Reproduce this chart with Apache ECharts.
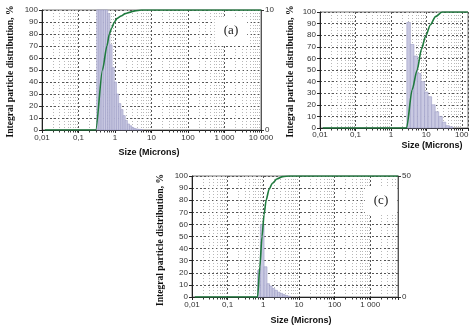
<!DOCTYPE html>
<html><head><meta charset="utf-8">
<script src="https://cdn.jsdelivr.net/npm/echarts@6/dist/echarts.min.js"></script>
<style>html,body{margin:0;padding:0;background:#fff}#c{width:474px;height:334px}</style>
</head><body><div id="c"></div>
<script>
// ---- tick labels ----
const xTickValues = [0.01, 0.1, 1, 10, 100, 1000, 10000];
const xTickLabels = ['0,01', '0,1', '1', '10', '100', '1 000', '10 000'];

// ---- panel (a): histogram (right axis, 0-10) and integral curve (left axis, %) ----
const edgesA = [0.316,0.363,0.417,0.479,0.550,0.631,0.724,0.832,0.955,1.096,1.259,1.445,1.660,1.905,2.188,2.512,2.884,3.311,3.802,4.365,5.012,5.754];
const barsA  = [12,12,12,12,12,9.7,7.1,5.2,4.0,3.0,2.2,1.7,1.2,0.8,0.5,0.35,0.2,0.12,0.08,0.05,0.03];
const curveSizeA = [0.012,0.297,0.454,0.60,0.70,0.81,0.96,1.15,1.47,1.9,2.5,3.5,5.3,10000];
const curveValA  = [0,0,50,70,80,85,90,93,95,97,98,99.3,100,100];

// ---- panel (b): histogram (left axis units) and integral curve ----
const edgesB = [2.818,3.548,4.467,5.623,7.079,8.913,11.22,14.13,17.78,22.39,28.18,35.48,44.67,56.23];
const barsB  = [91,72,62,47,40,31,27,20,14,10,5,2,1];
const curveSizeB = [0.012,2.77,3.98,5.5,7.3,9.5,13.1,18.1,27.9,150];
const curveValB  = [0,0,33,50,68,79,89,96,100,100];

// ---- panel (c): histogram (right axis, 0-50) and integral curve ----
const edgesC = [0.69,0.83,1.05,1.27,1.5,1.78,2.1,2.5,2.95,3.5,4.1,4.9,5.8];
const barsC  = [11,30,12.5,5.5,4.5,3.5,2.75,2,1.5,1,0.6,0.3];
const curveSizeC = [0.012,0.69,0.8,0.92,1.05,1.2,1.45,1.8,2.4,3.5,5.5,6000];
const curveValC  = [0,0,25,50,68,80,89,94,97.5,99.5,100,100];

const maxA = 10000, maxB = 150, maxC = 6000;

function fmtX(v){
  for (let i = 0; i < xTickValues.length; i++) {
    if (Math.abs(v / xTickValues[i] - 1) < 1e-6) return xTickLabels[i];
  }
  return '';
}
function binData(edges, vals){
  return vals.map((v, i) => [edges[i], edges[i + 1], v]);
}
function pairs(xs, ys){ return xs.map((x, i) => [x, ys[i]]); }
function minorPositions(max){
  const out = [];
  for (let k = -2; k <= 4; k++) {
    for (let m = 2; m <= 9; m++) {
      const v = m * Math.pow(10, k);
      if (v < max) out.push([v, 0]);
    }
  }
  return out;
}

const BAR_FILL = '#c9c9e2', BAR_STROKE = '#9d9dc6', GREEN = '#1f7a3e';

function barItem(params, api){
  const lo = api.value(0), hi = api.value(1), v = api.value(2);
  const p0 = api.coord([lo, v]);
  const p1 = api.coord([hi, 0]);
  const cs = params.coordSys;
  const shape = echarts.graphic.clipRectByRect(
    {x: p0[0], y: p0[1], width: p1[0] - p0[0], height: p1[1] - p0[1]},
    {x: cs.x, y: cs.y, width: cs.width, height: cs.height});
  if (!shape) return null;
  return {type: 'rect', shape: shape, style: {fill: BAR_FILL, stroke: BAR_STROKE, lineWidth: 0.6}};
}
function minorItem(params, api){
  const p = api.coord([api.value(0), 0]);
  const cs = params.coordSys;
  const x = Math.round(p[0]) + 0.5;
  return {type: 'group', children: [
    {type: 'line', shape: {x1: x, y1: cs.y, x2: x, y2: cs.y + cs.height},
     style: {stroke: '#b8b8b8', lineWidth: 1, lineDash: [1, 2]}},
    {type: 'line', shape: {x1: x, y1: cs.y + cs.height, x2: x, y2: cs.y + cs.height + 2.5},
     style: {stroke: '#333', lineWidth: 1}}
  ]};
}

function xAx(gi, max, margin){
  return {
    type: 'log', logBase: 10, gridIndex: gi, min: 0.01, max: max,
    axisLine: {show: true, lineStyle: {color: '#222', width: 1}},
    axisTick: {show: true, length: 3, lineStyle: {color: '#222'}},
    axisLabel: {fontSize: 8, color: '#333', margin: margin, formatter: fmtX,
                fontFamily: 'Liberation Sans, Arial, sans-serif'},
    splitLine: {show: true, lineStyle: {color: '#555', width: 1, type: [2, 2]}}
  };
}
function yLeft(gi){
  return {
    type: 'value', gridIndex: gi, min: 0, max: 100, interval: 10, position: 'left',
    axisLine: {show: true, lineStyle: {color: '#222', width: 1}},
    axisTick: {show: true, length: 3, lineStyle: {color: '#222'}},
    axisLabel: {fontSize: 8, color: '#333', margin: 4, fontFamily: 'Liberation Sans, Arial, sans-serif'},
    splitLine: {show: true, lineStyle: {color: '#555', width: 1, type: [2, 2]}}
  };
}
function yRight(gi, max){
  return {
    type: 'value', gridIndex: gi, min: 0, max: max, interval: max, position: 'right',
    axisLine: {show: true, lineStyle: {color: '#555', width: 1}},
    axisTick: {show: true, length: 3, lineStyle: {color: '#333'}},
    axisLabel: {fontSize: 8, color: '#333', margin: 4, fontFamily: 'Liberation Sans, Arial, sans-serif'},
    splitLine: {show: false}
  };
}

const yNameStyle = {text: 'Integral particle distribution, %', fontFamily: 'Liberation Serif, Times New Roman, serif',
  fontWeight: 'bold', fontSize: 9.6, fill: '#111', textAlign: 'center', textVerticalAlign: 'middle'};
const xNameStyle = {text: 'Size (Microns)', fontFamily: 'Liberation Sans, Arial, sans-serif',
  fontWeight: 'bold', fontSize: 9, fill: '#111', textAlign: 'center', textVerticalAlign: 'middle'};
const panelStyle = {fontFamily: 'Liberation Serif, Times New Roman, serif', fontSize: 13, fill: '#222',
  textAlign: 'center', textVerticalAlign: 'middle', backgroundColor: '#fff', padding: [7, 9]};

const chart = echarts.init(document.getElementById('c'), null, {renderer: 'canvas'});
chart.setOption({
  animation: false,
  backgroundColor: '#fff',
  grid: [
    {left: 42, top: 10, width: 219, height: 120, show: true, borderColor: '#777', borderWidth: 1},
    {left: 320, top: 12, width: 148, height: 116, show: true, borderColor: '#777', borderWidth: 1},
    {left: 192, top: 176, width: 206, height: 121, show: true, borderColor: '#777', borderWidth: 1}
  ],
  xAxis: [xAx(0, maxA, 4), xAx(1, maxB, 3), xAx(2, maxC, 4)],
  yAxis: [yLeft(0), yRight(0, 10), yLeft(1), yLeft(2), yRight(2, 50)],
  series: [
    {type: 'custom', xAxisIndex: 0, yAxisIndex: 0, silent: true, z: 1, renderItem: minorItem, data: minorPositions(maxA), encode: {x: 0, y: 1}},
    {type: 'custom', xAxisIndex: 1, yAxisIndex: 2, silent: true, z: 1, renderItem: minorItem, data: minorPositions(maxB), encode: {x: 0, y: 1}},
    {type: 'custom', xAxisIndex: 2, yAxisIndex: 3, silent: true, z: 1, renderItem: minorItem, data: minorPositions(maxC), encode: {x: 0, y: 1}},

    {type: 'custom', xAxisIndex: 0, yAxisIndex: 1, z: 2, renderItem: barItem, data: binData(edgesA, barsA), encode: {x: [0, 1], y: 2}},
    {type: 'custom', xAxisIndex: 1, yAxisIndex: 2, z: 2, renderItem: barItem, data: binData(edgesB, barsB), encode: {x: [0, 1], y: 2}},
    {type: 'custom', xAxisIndex: 2, yAxisIndex: 4, z: 2, renderItem: barItem, data: binData(edgesC, barsC), encode: {x: [0, 1], y: 2}},

    {type: 'line', xAxisIndex: 0, yAxisIndex: 0, z: 3, showSymbol: false, smooth: 0.25, smoothMonotone: 'x',
     lineStyle: {color: GREEN, width: 1.6}, data: pairs(curveSizeA, curveValA)},
    {type: 'line', xAxisIndex: 1, yAxisIndex: 2, z: 3, showSymbol: false, smooth: 0.25, smoothMonotone: 'x',
     lineStyle: {color: GREEN, width: 1.6}, data: pairs(curveSizeB, curveValB)},
    {type: 'line', xAxisIndex: 2, yAxisIndex: 3, z: 3, showSymbol: false, smooth: 0.25, smoothMonotone: 'x',
     lineStyle: {color: GREEN, width: 1.6}, data: pairs(curveSizeC, curveValC)}
  ],
  graphic: [
    {type: 'text', x: 10.5, y: 71.5, rotation: Math.PI / 2, style: yNameStyle, z: 10},
    {type: 'text', x: 291, y: 71.5, rotation: Math.PI / 2, style: yNameStyle, z: 10},
    {type: 'text', x: 161, y: 240, rotation: Math.PI / 2, style: yNameStyle, z: 10},
    {type: 'text', x: 149, y: 153, style: xNameStyle, z: 10},
    {type: 'text', x: 432, y: 146, style: xNameStyle, z: 10},
    {type: 'text', x: 301, y: 321, style: xNameStyle, z: 10},
    {type: 'text', x: 231, y: 31, style: Object.assign({text: '(a)'}, panelStyle), z: 10},
    {type: 'text', x: 381, y: 201, style: Object.assign({text: '(c)'}, panelStyle), z: 10}
  ]
});
</script></body></html>
